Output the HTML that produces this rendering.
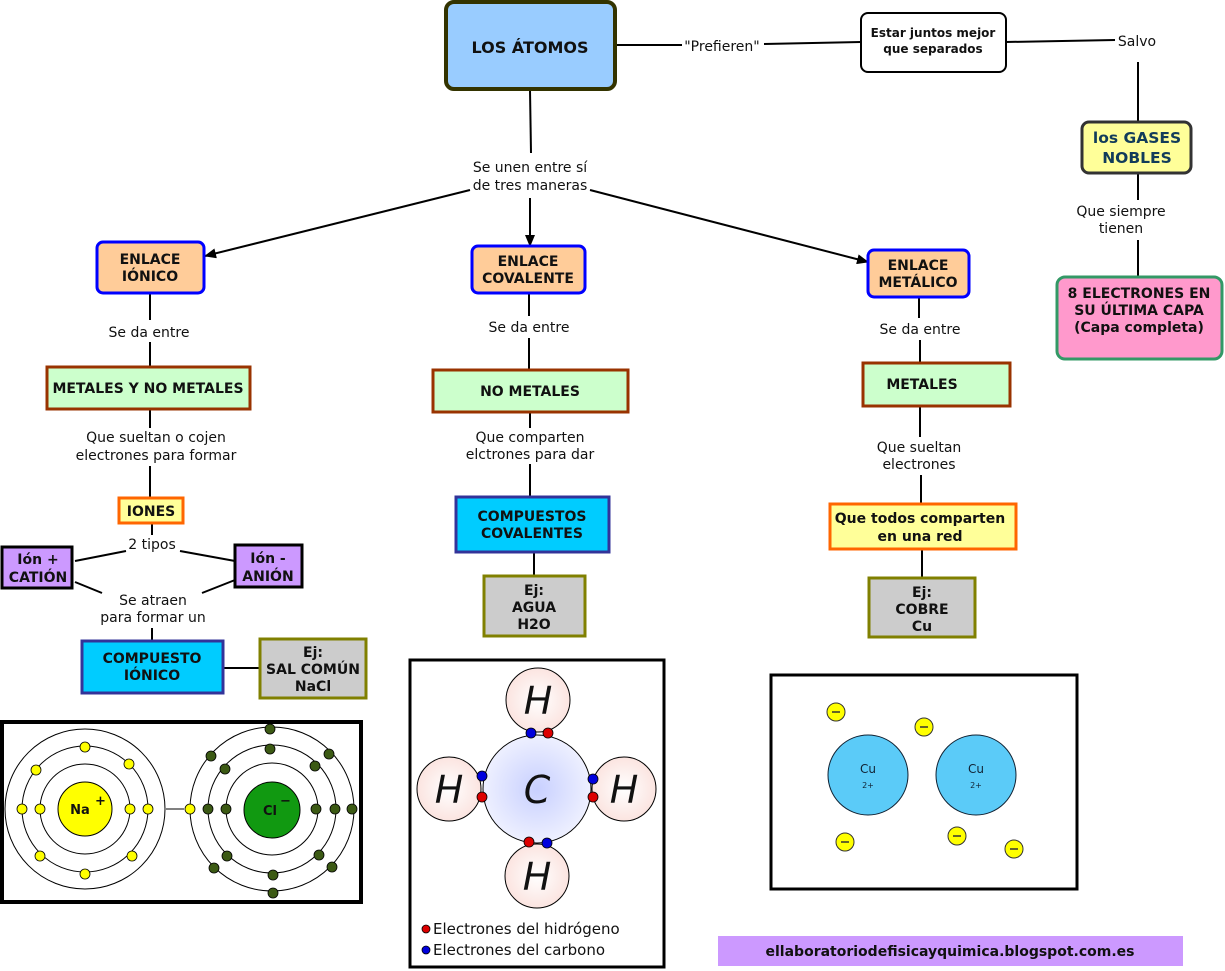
<!DOCTYPE html>
<html><head><meta charset="utf-8"><style>
body{margin:0;background:#fff}
svg{display:block}
text{font-family:"DejaVu Sans","Liberation Sans",sans-serif;font-size:14px;fill:#111}
.b{font-weight:bold;font-size:14px}
</style></head><body>
<svg width="1225" height="971" viewBox="0 0 1225 971" xmlns="http://www.w3.org/2000/svg">
<defs>
<marker id="ar" markerWidth="12" markerHeight="10" refX="11" refY="5" orient="auto" markerUnits="userSpaceOnUse"><path d="M0,0 L12,5 L0,10 z" fill="#000"/></marker>
<radialGradient id="cg"><stop offset="0" stop-color="#c8d0ff"/><stop offset="1" stop-color="#eef0ff"/></radialGradient>
<radialGradient id="hg"><stop offset="0" stop-color="#fff"/><stop offset="1" stop-color="#fbe4e0"/></radialGradient>
</defs>
<g stroke="#000" stroke-width="2" fill="none">
<line x1="615" y1="45" x2="682" y2="45"/><line x1="764" y1="44" x2="861" y2="42"/>
<line x1="1006" y1="42" x2="1115" y2="40"/><line x1="1138" y1="62" x2="1138" y2="122"/>
<line x1="1138" y1="173" x2="1138" y2="200"/><line x1="1138" y1="240" x2="1138" y2="277"/>
<line x1="530" y1="90" x2="531" y2="153"/>
<line x1="470" y1="190" x2="205" y2="256" marker-end="url(#ar)"/>
<line x1="530" y1="198" x2="530" y2="246" marker-end="url(#ar)"/>
<line x1="590" y1="190" x2="868" y2="262" marker-end="url(#ar)"/>
<line x1="150" y1="293" x2="150" y2="320"/><line x1="150" y1="342" x2="150" y2="367"/>
<line x1="529" y1="293" x2="529" y2="316"/><line x1="529" y1="338" x2="529" y2="370"/>
<line x1="919" y1="297" x2="919" y2="318"/><line x1="920" y1="340" x2="920" y2="363"/>
<line x1="150" y1="409" x2="150" y2="428"/><line x1="150" y1="466" x2="150" y2="498"/>
<line x1="530" y1="412" x2="530" y2="428"/><line x1="530" y1="464" x2="530" y2="497"/>
<line x1="920" y1="406" x2="920" y2="437"/><line x1="921" y1="475" x2="921" y2="504"/>
<line x1="152" y1="523" x2="152" y2="535"/>
<line x1="126" y1="551" x2="75" y2="561"/><line x1="180" y1="551" x2="235" y2="561"/>
<line x1="75" y1="582" x2="102" y2="593"/><line x1="235" y1="580" x2="202" y2="593"/>
<line x1="152" y1="628" x2="152" y2="640"/>
<line x1="223" y1="668" x2="259" y2="668"/>
<line x1="534" y1="552" x2="534" y2="576"/><line x1="922" y1="549" x2="922" y2="578"/>
</g>
<rect x="446" y="2" width="169" height="87" rx="8" fill="#99ccff" stroke="#333300" stroke-width="4"/>
<text x="530" y="53" text-anchor="middle" class="b" style="font-size:16px">LOS ÁTOMOS</text>
<text x="722" y="51" text-anchor="middle">"Prefieren"</text>
<rect x="861" y="13" width="145" height="59" rx="7" fill="#fff" stroke="#000" stroke-width="2"/>
<text x="933" y="37" text-anchor="middle" class="b" style="font-size:12px">Estar juntos mejor</text>
<text x="933" y="53" text-anchor="middle" class="b" style="font-size:12px">que separados</text>
<text x="1137" y="46" text-anchor="middle">Salvo</text>
<rect x="1082" y="122" width="109" height="51" rx="7" fill="#ffff99" stroke="#333" stroke-width="3"/>
<text x="1137" y="143" text-anchor="middle" class="b" style="font-size:15.5px;fill:#123c5a">los GASES</text>
<text x="1137" y="163" text-anchor="middle" class="b" style="font-size:15.5px;fill:#123c5a">NOBLES</text>
<text x="1121" y="216" text-anchor="middle">Que siempre</text>
<text x="1121" y="233" text-anchor="middle">tienen</text>
<rect x="1057" y="277" width="165" height="82" rx="8" fill="#ff99cc" stroke="#339966" stroke-width="3"/>
<text x="1139" y="298" text-anchor="middle" class="b">8 ELECTRONES EN</text>
<text x="1139" y="315" text-anchor="middle" class="b">SU ÚLTIMA CAPA</text>
<text x="1139" y="332" text-anchor="middle" class="b">(Capa completa)</text>
<text x="530" y="172" text-anchor="middle">Se unen entre sí</text>
<text x="530" y="190" text-anchor="middle">de tres maneras</text>

<rect x="97" y="242" width="107" height="51" rx="6" fill="#ffcc99" stroke="#0000ff" stroke-width="3"/>
<text x="150" y="264" text-anchor="middle" class="b">ENLACE</text>
<text x="150" y="281" text-anchor="middle" class="b">IÓNICO</text>
<rect x="472" y="246" width="113" height="47" rx="6" fill="#ffcc99" stroke="#0000ff" stroke-width="3"/>
<text x="528" y="266" text-anchor="middle" class="b">ENLACE</text>
<text x="528" y="283" text-anchor="middle" class="b">COVALENTE</text>
<rect x="868" y="250" width="101" height="47" rx="6" fill="#ffcc99" stroke="#0000ff" stroke-width="3"/>
<text x="918" y="270" text-anchor="middle" class="b">ENLACE</text>
<text x="918" y="287" text-anchor="middle" class="b">METÁLICO</text>
<text x="149" y="337" text-anchor="middle">Se da entre</text>
<text x="529" y="332" text-anchor="middle">Se da entre</text>
<text x="920" y="334" text-anchor="middle">Se da entre</text>

<rect x="47" y="367" width="203" height="42" fill="#ccffcc" stroke="#993300" stroke-width="3"/>
<text x="148" y="393" text-anchor="middle" class="b">METALES Y NO METALES</text>
<rect x="433" y="370" width="195" height="42" fill="#ccffcc" stroke="#993300" stroke-width="3"/>
<text x="530" y="396" text-anchor="middle" class="b">NO METALES</text>
<rect x="863" y="363" width="147" height="43" fill="#ccffcc" stroke="#993300" stroke-width="3"/>
<text x="922" y="389" text-anchor="middle" class="b">METALES</text>

<text x="156" y="442" text-anchor="middle">Que sueltan o cojen</text>
<text x="156" y="460" text-anchor="middle">electrones para formar</text>
<text x="530" y="442" text-anchor="middle">Que comparten</text>
<text x="530" y="459" text-anchor="middle">elctrones para dar</text>
<text x="919" y="452" text-anchor="middle">Que sueltan</text>
<text x="919" y="469" text-anchor="middle">electrones</text>

<rect x="119" y="498" width="64" height="25" fill="#ffff99" stroke="#ff6600" stroke-width="3"/>
<text x="151" y="516" text-anchor="middle" class="b">IONES</text>
<text x="152" y="549" text-anchor="middle">2 tipos</text>
<rect x="2" y="547" width="70" height="41" fill="#cc99ff" stroke="#000" stroke-width="3"/>
<text x="38" y="564" text-anchor="middle" class="b">Ión +</text>
<text x="38" y="582" text-anchor="middle" class="b">CATIÓN</text>
<rect x="235" y="545" width="67" height="42" fill="#cc99ff" stroke="#000" stroke-width="3"/>
<text x="268" y="563" text-anchor="middle" class="b">Ión -</text>
<text x="268" y="581" text-anchor="middle" class="b">ANIÓN</text>
<text x="153" y="605" text-anchor="middle">Se atraen</text>
<text x="153" y="622" text-anchor="middle">para formar un</text>
<rect x="82" y="641" width="141" height="52" fill="#00ccff" stroke="#333399" stroke-width="3"/>
<text x="152" y="663" text-anchor="middle" class="b">COMPUESTO</text>
<text x="152" y="680" text-anchor="middle" class="b">IÓNICO</text>
<rect x="260" y="639" width="106" height="59" fill="#cccccc" stroke="#808000" stroke-width="3"/>
<text x="313" y="657" text-anchor="middle" class="b">Ej:</text>
<text x="313" y="674" text-anchor="middle" class="b">SAL COMÚN</text>
<text x="313" y="691" text-anchor="middle" class="b">NaCl</text>

<rect x="456" y="497" width="153" height="55" fill="#00ccff" stroke="#333399" stroke-width="3"/>
<text x="532" y="521" text-anchor="middle" class="b">COMPUESTOS</text>
<text x="532" y="538" text-anchor="middle" class="b">COVALENTES</text>
<rect x="484" y="576" width="101" height="60" fill="#cccccc" stroke="#808000" stroke-width="3"/>
<text x="534" y="595" text-anchor="middle" class="b">Ej:</text>
<text x="534" y="612" text-anchor="middle" class="b">AGUA</text>
<text x="534" y="629" text-anchor="middle" class="b">H2O</text>

<rect x="830" y="504" width="186" height="45" fill="#ffff99" stroke="#ff6600" stroke-width="3"/>
<text x="920" y="523" text-anchor="middle" class="b">Que todos comparten</text>
<text x="920" y="541" text-anchor="middle" class="b">en una red</text>
<rect x="869" y="578" width="106" height="59" fill="#cccccc" stroke="#808000" stroke-width="3"/>
<text x="922" y="597" text-anchor="middle" class="b">Ej:</text>
<text x="922" y="614" text-anchor="middle" class="b">COBRE</text>
<text x="922" y="631" text-anchor="middle" class="b">Cu</text>

<rect x="2" y="722" width="359" height="180" fill="#fff" stroke="#000" stroke-width="4"/>
<g fill="none" stroke="#000" stroke-width="1">
<circle cx="85" cy="809" r="80"/><circle cx="85" cy="809" r="63"/><circle cx="85" cy="809" r="45"/>
<circle cx="272" cy="809" r="82"/><circle cx="272" cy="809" r="64"/><circle cx="272" cy="809" r="46"/>
<line x1="166" y1="809" x2="184" y2="809"/>
</g>
<circle cx="85" cy="809" r="27" fill="#ffff00" stroke="#000"/>
<text x="80" y="814" text-anchor="middle" class="b" style="font-size:13px">Na</text><text x="95" y="805" class="b" style="font-size:13px">+</text>
<circle cx="272" cy="810" r="28" fill="#119911" stroke="#000"/>
<text x="270" y="815" text-anchor="middle" class="b" style="font-size:13px">Cl</text><text x="280" y="805" class="b" style="font-size:13px">−</text>
<g fill="#ffff00" stroke="#000" stroke-width="0.8">
<circle cx="85" cy="747" r="5"/><circle cx="36" cy="770" r="5"/><circle cx="129" cy="764" r="5"/>
<circle cx="22" cy="809" r="5"/><circle cx="40" cy="809" r="5"/><circle cx="130" cy="809" r="5"/><circle cx="148" cy="809" r="5"/>
<circle cx="40" cy="856" r="5"/><circle cx="132" cy="856" r="5"/><circle cx="85" cy="874" r="5"/><circle cx="190" cy="809" r="5"/>
</g>
<g fill="#3c5a14" stroke="#000" stroke-width="0.8">
<circle cx="270" cy="729" r="5"/><circle cx="270" cy="749" r="5"/><circle cx="211" cy="756" r="5"/><circle cx="225" cy="769" r="5"/>
<circle cx="329" cy="754" r="5"/><circle cx="315" cy="766" r="5"/>
<circle cx="208" cy="809" r="5"/><circle cx="226" cy="809" r="5"/><circle cx="316" cy="809" r="5"/><circle cx="335" cy="809" r="5"/><circle cx="352" cy="809" r="5"/>
<circle cx="227" cy="856" r="5"/><circle cx="214" cy="868" r="5"/><circle cx="319" cy="855" r="5"/><circle cx="332" cy="867" r="5"/>
<circle cx="273" cy="875" r="5"/><circle cx="273" cy="893" r="5"/>
</g>

<rect x="410" y="660" width="254" height="307" fill="#fff" stroke="#000" stroke-width="3"/>
<g stroke="#000" stroke-width="1">
<circle cx="538" cy="700" r="32" fill="url(#hg)"/><circle cx="449" cy="789" r="32" fill="url(#hg)"/>
<circle cx="624" cy="789" r="32" fill="url(#hg)"/><circle cx="537" cy="876" r="32" fill="url(#hg)"/>
<circle cx="537" cy="789" r="54" fill="url(#cg)"/>
</g>
<g text-anchor="middle">
<text x="538" y="714" style="font-size:38px;font-style:italic">H</text>
<text x="449" y="803" style="font-size:38px;font-style:italic">H</text>
<text x="624" y="803" style="font-size:38px;font-style:italic">H</text>
<text x="537" y="890" style="font-size:38px;font-style:italic">H</text>
<text x="537" y="803" style="font-size:38px;font-style:italic">C</text>
</g>
<g stroke="#000" stroke-width="0.8">
<circle cx="531" cy="733" r="5" fill="#0000dd"/><circle cx="548" cy="733" r="5" fill="#dd0000"/>
<circle cx="482" cy="776" r="5" fill="#0000dd"/><circle cx="482" cy="797" r="5" fill="#dd0000"/>
<circle cx="593" cy="779" r="5" fill="#0000dd"/><circle cx="593" cy="797" r="5" fill="#dd0000"/>
<circle cx="529" cy="842" r="5" fill="#dd0000"/><circle cx="547" cy="843" r="5" fill="#0000dd"/>
<circle cx="426" cy="929" r="4" fill="#dd0000"/><circle cx="426" cy="950" r="4" fill="#0000dd"/>
</g>
<text x="433" y="934" style="font-size:15px">Electrones del hidrógeno</text>
<text x="433" y="955" style="font-size:15px">Electrones del carbono</text>

<rect x="771" y="675" width="306" height="214" fill="#fff" stroke="#000" stroke-width="3"/>
<circle cx="868" cy="775" r="40" fill="#5bcbf8" stroke="#123" stroke-width="1"/>
<circle cx="976" cy="775" r="40" fill="#5bcbf8" stroke="#123" stroke-width="1"/>
<text x="868" y="773" text-anchor="middle" style="font-size:12px;fill:#123">Cu</text>
<text x="868" y="788" text-anchor="middle" style="font-size:8px;fill:#123">2+</text>
<text x="976" y="773" text-anchor="middle" style="font-size:12px;fill:#123">Cu</text>
<text x="976" y="788" text-anchor="middle" style="font-size:8px;fill:#123">2+</text>
<g fill="#ffff00" stroke="#333" stroke-width="1">
<circle cx="836" cy="712" r="9"/><circle cx="924" cy="727" r="9"/><circle cx="845" cy="842" r="9"/><circle cx="957" cy="836" r="9"/><circle cx="1014" cy="849" r="9"/>
</g>
<g stroke="#333" stroke-width="1.5">
<line x1="832" y1="712" x2="840" y2="712"/><line x1="920" y1="727" x2="928" y2="727"/><line x1="841" y1="842" x2="849" y2="842"/><line x1="953" y1="836" x2="961" y2="836"/><line x1="1010" y1="849" x2="1018" y2="849"/>
</g>

<rect x="718" y="936" width="465" height="30" fill="#cc99ff"/>
<text x="950" y="956" text-anchor="middle" class="b" style="font-size:14px">ellaboratoriodefisicayquimica.blogspot.com.es</text>
</svg>
</body></html>
